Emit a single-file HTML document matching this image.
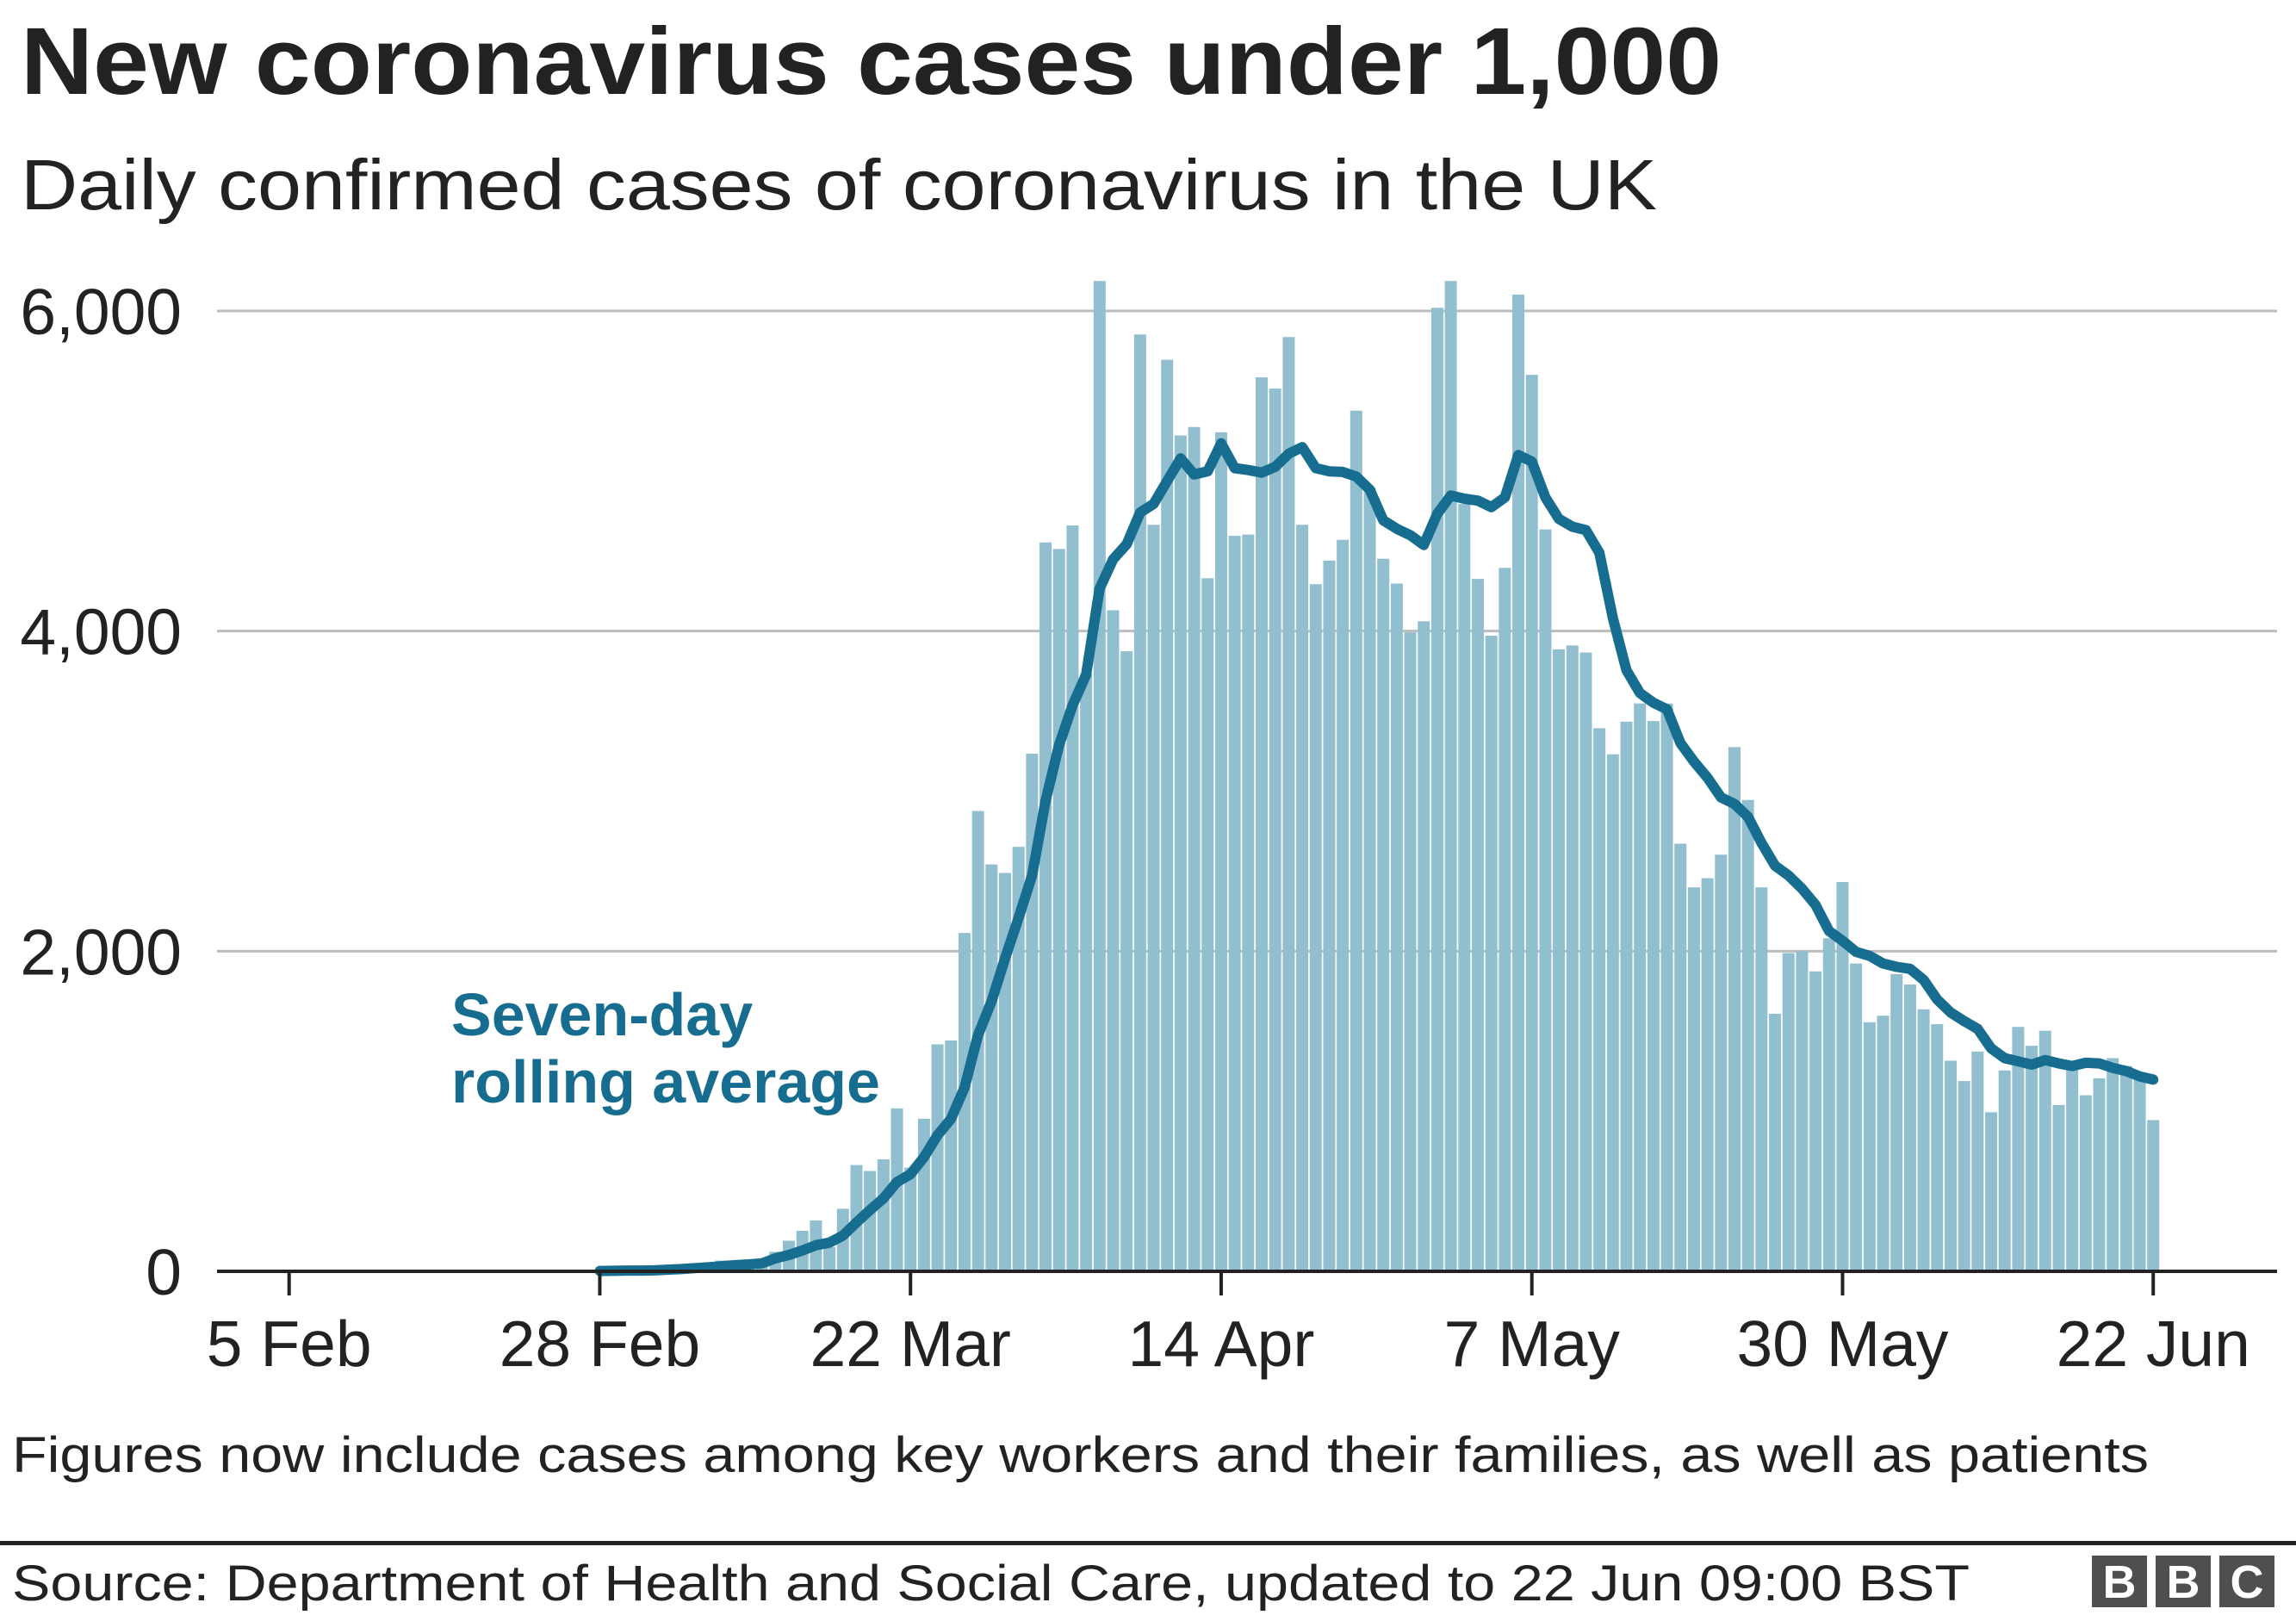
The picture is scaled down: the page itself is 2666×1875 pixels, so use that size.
<!DOCTYPE html>
<html><head><meta charset="utf-8"><style>
html,body{margin:0;padding:0;background:#fff;}
svg{display:block;font-family:"Liberation Sans",Arial,sans-serif;}
</style></head><body>
<svg id="chart" width="2666" height="1875" viewBox="0 0 2666 1875" xmlns="http://www.w3.org/2000/svg">
<text x="24" y="109" font-size="110" font-weight="bold" fill="#222" textLength="1975" lengthAdjust="spacingAndGlyphs">New coronavirus cases under 1,000</text>
<text x="24" y="243" font-size="83" fill="#222" textLength="1900" lengthAdjust="spacingAndGlyphs">Daily confirmed cases of coronavirus in the UK</text>
<g id="grid"></g>
<g id="bars"></g>
<g id="line"></g>
<g id="axes"></g>
<text x="524" y="1202" font-size="70" font-weight="bold" fill="#176d8f">Seven-day</text>
<text x="524" y="1280" font-size="70" font-weight="bold" fill="#176d8f">rolling average</text>
<text x="14" y="1709" font-size="58" fill="#222" textLength="2481" lengthAdjust="spacingAndGlyphs">Figures now include cases among key workers and their families, as well as patients</text>
<rect x="0" y="1789" width="2666" height="5" fill="#222"/>
<text x="14" y="1858" font-size="58" fill="#222" textLength="2273" lengthAdjust="spacingAndGlyphs">Source: Department of Health and Social Care, updated to 22 Jun 09:00 BST</text>
<g>
<rect x="2429" y="1806" width="64" height="60" fill="#4f4f4f"/>
<rect x="2503" y="1806" width="64" height="60" fill="#4f4f4f"/>
<rect x="2577" y="1806" width="64" height="60" fill="#4f4f4f"/>
<text x="2461" y="1855" font-size="54" font-weight="bold" fill="#fff" text-anchor="middle">B</text>
<text x="2535" y="1855" font-size="54" font-weight="bold" fill="#fff" text-anchor="middle">B</text>
<text x="2609" y="1855" font-size="54" font-weight="bold" fill="#fff" text-anchor="middle">C</text>
</g>
</svg>
<script>
const startDay = 23; // 28 Feb as days since 5 Feb
const dailyCases = [3,3,12,4,11,34,30,48,43,67,48,61,77,
122,191,253,318,152,391,664,627,700,1018,648,953,1418,1442,2114,2876,2542,2489,2652,3234,
4554,4513,4660,3735,6187,4130,3874,5853,4664,5695,5222,5275,4330,5242,4595,4603,5585,5515,5837,4664,4293,4440,4570,5377,4896,4452,4297,3992,4061,6020,
6187,4794,4326,3971,4395,6102,5601,4635,3886,3910,3866,3393,3230,3434,3548,3438,3548,2672,2399,2456,2603,3275,2945,2399,1609,1988,2000,1874,2081,2432,1923,
1556,1597,1857,1792,1637,1544,1316,1189,1373,994,1255,1527,1409,1503,1039,1270,1100,1206,1332,1283,1220,945];
const rollingAvg = [2,3,5,5,6,10,14,20,25,32,38,43,50,
81,102,130,163,179,224,305,383,456,558,607,713,851,953,1149,1475,1686,1955,2208,2473,
2941,3287,3536,3727,4265,4448,4542,4741,4794,4937,5079,4978,4998,
5173,5018,5006,4990,5026,5108,5149,5018,4998,4994,4965,4884,4692,4639,4599,4538,4733,
4847,4827,4815,4774,4835,5100,5059,4835,4701,4652,4631,4489,4081,3756,3613,3552,3511,3300,
3185,3084,2961,2920,2839,2676,2534,2473,2391,2289,2126,2065,1996,
1971,1923,1902,1890,1821,1699,1617,1564,1515,1393,1332,1312,1291,1320,1299,1283,1303,1299,1271,1251,1218,1198];
const yTicks = [0,2000,4000,6000];
const yTickLabels = ["0","2,000","4,000","6,000"];
const xTickDays = [0,23,46,69,92,115,138];
const xTickLabels = ["5 Feb","28 Feb","22 Mar","14 Apr","7 May","30 May","22 Jun"];

const NS="http://www.w3.org/2000/svg";
function x(d){return 335.7 + d*15.685;}
function y(v){return 1476 - v*(1476-361)/6000;}
function mk(tag,attrs,parent){const e=document.createElementNS(NS,tag);for(const k in attrs)e.setAttribute(k,attrs[k]);parent.appendChild(e);return e;}
const grid=document.getElementById('grid'),bars=document.getElementById('bars'),line=document.getElementById('line'),axes=document.getElementById('axes');
yTicks.forEach((t,i)=>{
  if(t>0){const g=mk('line',{x1:252,x2:2644,y1:y(t),y2:y(t),stroke:'#bdbdbd','stroke-width':3},grid);
  
  }
  const l=mk('text',{x:211,y:y(t)+27,'font-size':75,fill:'#222','text-anchor':'end'},axes);
  l.textContent=yTickLabels[i];
  
  
});
dailyCases.forEach((v,i)=>{
  const d=startDay+i;
  const r=mk('rect',{x:x(d)-7,y:y(v),width:14,height:y(0)-y(v),fill:'#92bfd0'},bars);
  
  
});
const pts=rollingAvg.map((v,i)=>x(startDay+i).toFixed(1)+','+y(v).toFixed(1)).join(' ');
const pl=mk('polyline',{points:pts,fill:'none',stroke:'#176d8f','stroke-width':12,'stroke-linejoin':'round','stroke-linecap':'round'},line);


const ax=mk('line',{x1:252,x2:2644,y1:y(0),y2:y(0),stroke:'#222','stroke-width':4},axes);


xTickDays.forEach((d,i)=>{
  const t=mk('line',{x1:x(d),x2:x(d),y1:y(0),y2:y(0)+28,stroke:'#222','stroke-width':4},axes);
  
  
  const l=mk('text',{x:x(d),y:1586,'font-size':75,fill:'#222','text-anchor':'middle'},axes);
  l.textContent=xTickLabels[i];
  
  
});
</script>
</body></html>
